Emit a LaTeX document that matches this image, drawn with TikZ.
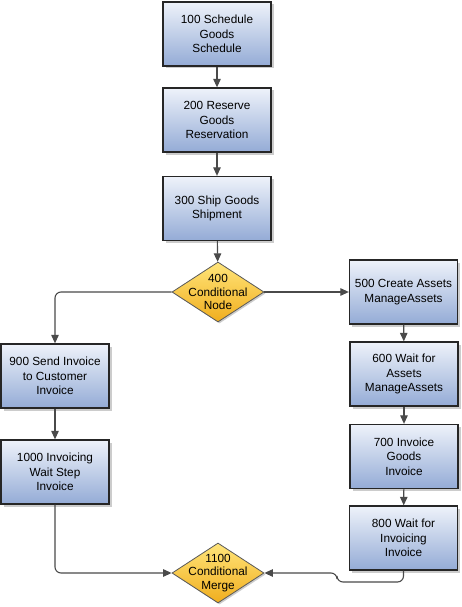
\documentclass[tikz,border=0pt]{standalone}
\usepackage{fontspec}
\setmainfont{Liberation Sans}
\usepackage[HTML]{xcolor}
\usepackage{tikz}
\usetikzlibrary{arrows.meta, shapes.geometric, shadows}

\definecolor{boxtop}{HTML}{EEF2FA}
\definecolor{boxbot}{HTML}{94ABD6}
\definecolor{condtop}{HTML}{FFE57A}
\definecolor{condbot}{HTML}{F0AE1E}
\definecolor{linegray}{HTML}{4A4A4A}

\begin{document}
\begin{tikzpicture}[x=1pt,y=-1pt,
  font=\fontsize{11.8}{14.3}\selectfont,
  stepbox/.style={draw=black!85, line width=1.3pt, minimum width=108pt, minimum height=64pt,
    align=center, inner sep=2pt, top color=boxtop, bottom color=boxbot,
    drop shadow={shadow xshift=2.5pt, shadow yshift=-2.5pt, fill=black!25, opacity=0.8}},
  cond/.style={diamond, draw=black!65, line width=0.8pt, minimum width=92pt, minimum height=60pt,
    inner sep=0pt, top color=condtop, bottom color=condbot,
    drop shadow={shadow xshift=1.5pt, shadow yshift=-1.5pt, fill=black!25, opacity=0.8}},
  condtext/.style={align=center, font=\fontsize{11.8}{13.6}\selectfont},
  flow/.style={draw=linegray, line width=1.1pt, rounded corners=6pt, -{Triangle[length=8.5pt,width=7.5pt]}}]
\useasboundingbox (0,0) rectangle (462,607);

\node[stepbox] (s100) at (217,34) {100 Schedule\\Goods\\Schedule};
\node[stepbox] (s200) at (217,120) {200 Reserve\\Goods\\Reservation};
\node[stepbox] (s300) at (217,208.5) {300 Ship Goods\\Shipment};
\node[cond, label={[condtext]center:400\\Conditional\\Node}] (d400) at (218,292) {};
\node[stepbox] (s500) at (403.5,292) {500 Create Assets\\ManageAssets};
\node[stepbox] (s600) at (404,374) {600 Wait for\\Assets\\ManageAssets};
\node[stepbox] (s700) at (404,456.5) {700 Invoice\\Goods\\Invoice};
\node[stepbox] (s800) at (403.5,538) {800 Wait for\\Invoicing\\Invoice};
\node[stepbox] (s900) at (55,376) {900 Send Invoice\\to Customer\\Invoice};
\node[stepbox] (s1000) at (55,472) {1000 Invoicing\\Wait Step\\Invoice};
\node[cond, label={[condtext]center:1100\\Conditional\\Merge}] (d1100) at (218,573) {};
\coordinate (k1) at (337,582);

\draw[flow] (s100) -- (s200);
\draw[flow] (s200) -- (s300);
\draw[flow] (s300) -- (d400);
\draw[flow] (d400.east) -- (s500.west);
\draw[flow] (d400.west) -| (s900.north);
\draw[flow] (s500) -- (s600);
\draw[flow] (s600) -- (s700);
\draw[flow] (s700) -- (s800);
\draw[flow] (s900) -- (s1000);
\draw[flow] (s1000.south) |- (d1100.west);
\draw[flow] (s800.south) |- (k1) |- (d1100.east);
\end{tikzpicture}
\end{document}
